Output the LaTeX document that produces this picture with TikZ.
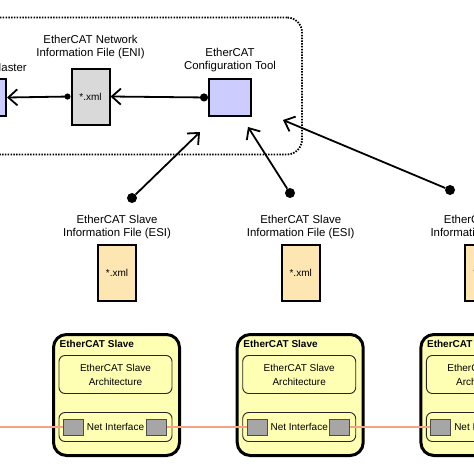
\documentclass[tikz,border=0pt]{standalone}
\usepackage{fontspec}
\setmainfont{Liberation Sans}
\usepackage{tikz}
\usetikzlibrary{positioning,shapes,arrows.meta}
\definecolor{toolblue}{HTML}{CCCCFF}
\definecolor{enigray}{HTML}{D9D9D9}
\definecolor{esiorange}{HTML}{FDE6B2}
\definecolor{slaveyellow}{HTML}{FFFFB4}
\definecolor{portgray}{HTML}{A6A6A6}
\definecolor{ethorange}{HTML}{F4A384}
\tikzstyle{tool}=[rectangle, draw=black, line width=2pt, fill=toolblue, minimum width=42pt, minimum height=37pt]
\tikzstyle{file}=[rectangle, draw=black, line width=2pt, minimum width=38pt, minimum height=56pt, font=\fontsize{10}{12}\selectfont]
\tikzstyle{label}=[align=center, inner sep=0, text=black, font=\fontsize{11.4}{13}\selectfont]
\tikzstyle{slave}=[rectangle, rounded corners=13pt, draw=black, line width=3pt, fill=slaveyellow, minimum width=126pt, minimum height=121pt]
\tikzstyle{part}=[rectangle, rounded corners=6pt, draw=black!85, line width=0.9pt, minimum width=113pt, align=center, font=\fontsize{10}{14}\selectfont]
\tikzstyle{port}=[rectangle, draw=black!70, line width=1pt, fill=portgray, minimum width=20pt, minimum height=16pt, inner sep=0]
\tikzstyle{dot}=[circle, fill=black, inner sep=0, minimum size=10pt]
\tikzstyle{conn}=[draw=black, line width=1.8pt]
\tikzstyle{ethline}=[draw=ethorange, line width=2pt]
\tikzset{>={Straight Barb[length=9pt,width=16pt]}}
\begin{document}
\begin{tikzpicture}[x=1pt,y=-1pt]
        \useasboundingbox (0,0) rectangle (474,474);
        \clip (0,0) rectangle (474,474);

        % configuration side
        \node (toolArea) [draw=black, dash pattern=on 1.5pt off 1.3pt, line width=1.8pt, rounded corners=15pt, minimum width=360pt, minimum height=137pt] at (122,86) {};

        \node (master)[tool] at (-15,97.5) {};
        \node (masterLabel)[label, anchor=east] at (27,67) {EtherCAT Master};

        \node (eni)[file, fill=enigray] at (90.5,96.5) {*.xml};
        \node (eniLabel)[label, above=8pt of eni] {EtherCAT Network\\Information File (ENI)};

        \node (tool)[tool] at (230,97.5) {};
        \node (toolLabel)[label, above=6pt of tool] {EtherCAT\\Configuration Tool};

        \draw [conn, {Circle[length=8pt]}->] (tool.west) -- (eni.east);
        \draw [conn, {Circle[length=6pt]}->] (eni.west) -- (master.east);

        % slave description files
        \foreach \i [evaluate=\i as \xc using 117+183.7*(\i-1)] in {1,2,3}{
            \node (esi\i)[file, fill=esiorange] at (\xc,272.5) {*.xml};
            \node (esiLabel\i)[label, above=4pt of esi\i] {EtherCAT Slave\\Information File (ESI)};
        };

        \node (esiDot1)[dot] at (132,198) {};
        \node (esiDot2)[dot] at (290,193) {};
        \node (esiDot3)[dot] at (450,190) {};
        \coordinate (toolIn1) at (200,132);
        \coordinate (toolIn2) at (248,127);
        \coordinate (toolIn3) at (283,120);
        \foreach \i in {1,2,3}{
            \draw [conn, ->] (esiDot\i) -- (toolIn\i);
        };

        % slaves
        \foreach \i [evaluate=\i as \xc using 116.5+183.7*(\i-1)] in {1,2,3}{
            \node (slave\i)[slave] at (\xc,395) {};
            \node (slaveTitle\i)[anchor=west, inner sep=0, font=\fontsize{10}{12}\selectfont\bfseries] at ([xshift=-57pt,yshift=51pt]slave\i.center) {EtherCAT Slave};
            \node (arch\i)[part, minimum height=38pt] at ([xshift=-1pt,yshift=20.5pt]slave\i.center) {EtherCAT Slave\\Architecture};
            \node (net\i)[part, minimum height=29pt] at ([xshift=-1pt,yshift=-32pt]slave\i.center) {Net Interface};
            \node (portL\i)[port] at ([xshift=-43pt,yshift=-32pt]slave\i.center) {};
            \node (portR\i)[port] at ([xshift=39.5pt,yshift=-32pt]slave\i.center) {};
        };

        \coordinate (busStart) at (-5,427);
        \coordinate (busEnd) at (560,427);
        \draw [ethline] (busStart) -- (portL1.west);
        \foreach \x [remember=\x as \lastx (initially 1)] in {2,3}{
            \draw [ethline] (portR\lastx.east) -- (portL\x.west);
        };
        \draw [ethline] (portR3.east) -- (busEnd);

    \end{tikzpicture}
\end{document}
